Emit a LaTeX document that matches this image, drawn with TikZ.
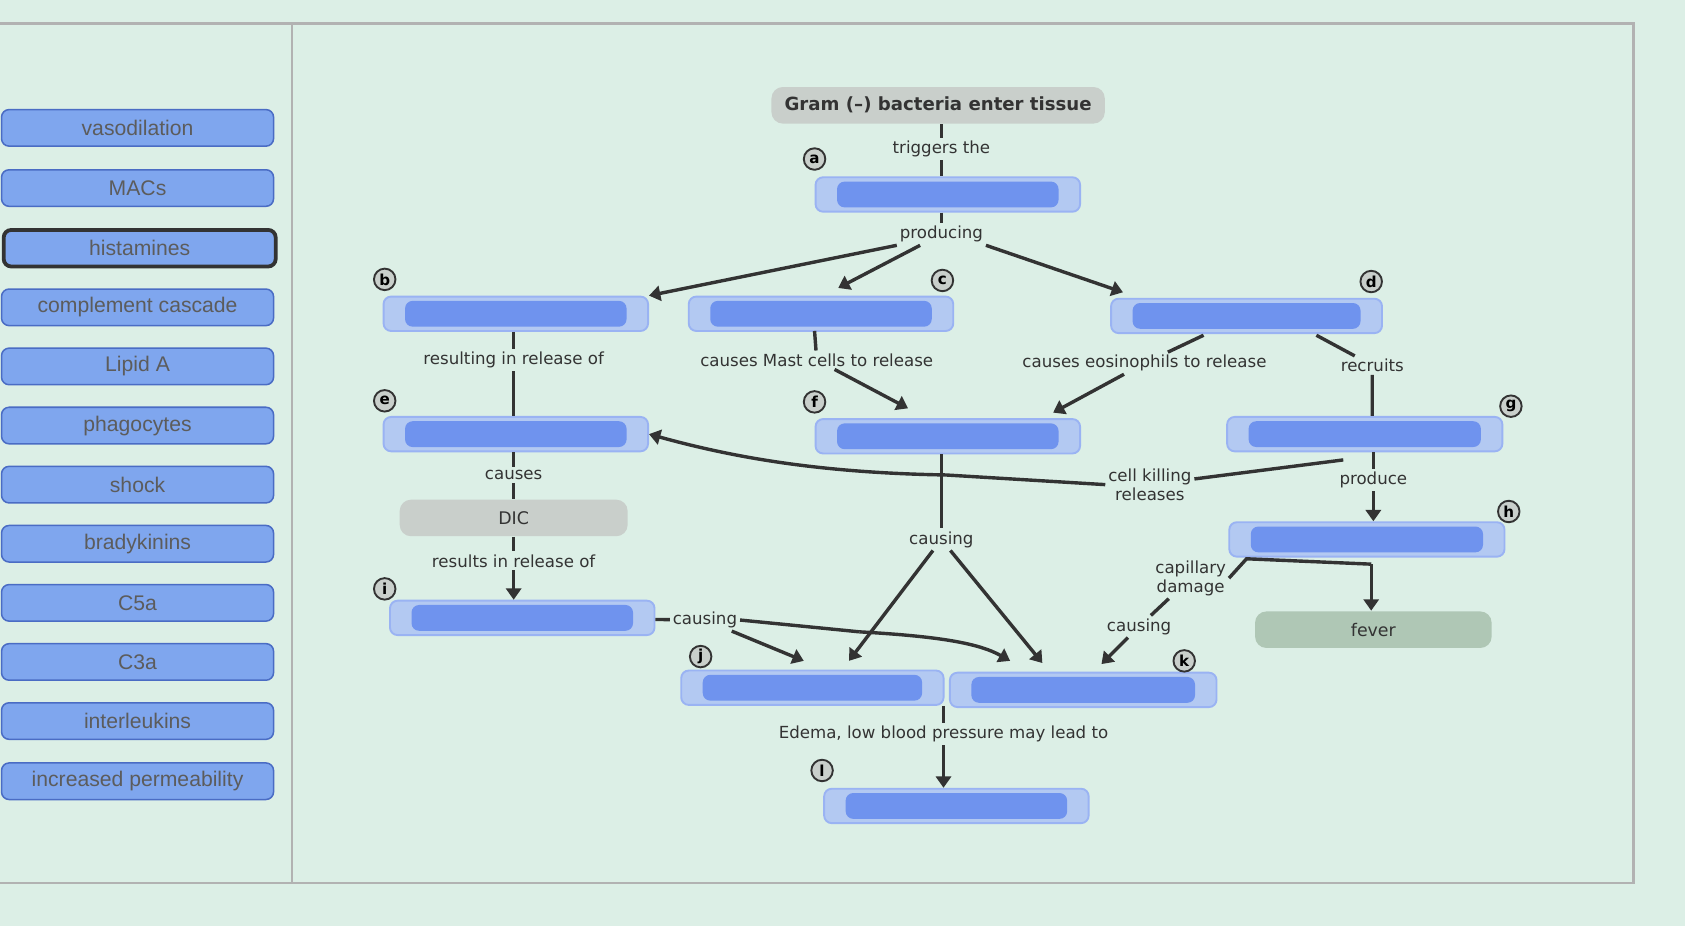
\documentclass[tikz,border=0pt]{standalone}
\usepackage{fontspec}
\setmainfont{DejaVu Sans}
\newfontfamily\btnfont{Liberation Sans}
\usetikzlibrary{arrows.meta}
\definecolor{bgmint}{HTML}{DCEFE6}
\definecolor{btnblue}{HTML}{7FA6EE}
\definecolor{btnedge}{HTML}{4A6CC4}
\definecolor{slotfill}{HTML}{B3C9F2}
\definecolor{slotin}{HTML}{6F93EE}
\definecolor{greybox}{HTML}{C9CFCB}
\definecolor{fevergrey}{HTML}{AFC7B5}
\definecolor{ink}{HTML}{333333}
\tikzset{
  btn/.style={draw=btnedge, fill=btnblue, rounded corners=2pt, minimum width=2.53cm,
    minimum height=0.34cm, inner sep=0pt, font=\btnfont\fontsize{5.6}{6}\selectfont, text=ink!80},
  slot/.style={draw=slotin!70, fill=slotfill, rounded corners=2pt, minimum width=2.46cm,
    minimum height=0.32cm, inner sep=0pt, line width=0.5pt,
    path picture={\fill[slotin] ([xshift=0.2cm,yshift=0.04cm]path picture bounding box.south west)
      rectangle ([xshift=-0.2cm,yshift=-0.04cm]path picture bounding box.north east);}},
  grey/.style={fill=greybox, rounded corners=3pt, minimum height=0.34cm, inner sep=0pt,
    font=\fontsize{4.6}{5}\selectfont, text=ink},
  lbl/.style={font=\fontsize{4.4}{5}\selectfont, text=ink, inner sep=0.6pt, fill=bgmint, align=center},
  tag/.style={circle, draw=ink, line width=0.5pt, fill=greybox, inner sep=0pt, minimum size=0.2cm,
    font=\bfseries\fontsize{4}{4}\selectfont},
  con/.style={draw=ink, line width=0.9pt},
  arr/.style={con, -{Triangle[length=3pt,width=4pt]}}
}
\begin{document}
\begin{tikzpicture}[x=0.01cm,y=-0.01cm]
\useasboundingbox (0,0) rectangle (1568,862);
\fill[bgmint] (0,0) rectangle (1568,862);
\draw[gray!60, line width=0.6pt] (0,22) -- (1520,22) -- (1520,822) -- (0,822);
\draw[gray!60, line width=0.6pt] (272,22) -- (272,822);

% word bank
\node[btn] (w1) at (128,119) {vasodilation};
\node[btn] (w2) at (128,175) {MACs};
\node[btn, line width=1pt, draw=ink] (w3) at (130,231) {histamines};
\node[btn] (w4) at (128,286) {complement cascade};
\node[btn] (w5) at (128,341) {Lipid A};
\node[btn] (w6) at (128,396) {phagocytes};
\node[btn] (w7) at (128,451) {shock};
\node[btn] (w8) at (128,506) {bradykinins};
\node[btn] (w9) at (128,561) {C5a};
\node[btn] (w10) at (128,616) {C3a};
\node[btn] (w11) at (128,671) {interleukins};
\node[btn] (w12) at (128,727) {increased permeability};

% map boxes
\node[grey, minimum width=3.1cm, font=\bfseries\fontsize{4.8}{5}\selectfont] (gram) at (873,98) {Gram (--) bacteria enter tissue};
\node[slot] (a) at (882,181) {};
\node[slot] (b) at (480,292) {};
\node[slot] (c) at (764,292) {};
\node[slot, minimum width=2.52cm] (d) at (1160,294) {};
\node[slot] (e) at (480,404) {};
\node[slot] (f) at (882,406) {};
\node[slot, minimum width=2.56cm] (g) at (1270,404) {};
\node[slot, minimum width=2.56cm] (h) at (1272,502) {};
\node[slot] (i) at (486,575) {};
\node[slot, minimum width=2.44cm] (j) at (756,640) {};
\node[slot, minimum width=2.48cm] (k) at (1008,642) {};
\node[slot] (l) at (890,750) {};
\node[grey, minimum width=2.12cm] (dic) at (478,482) {DIC};
\node[grey, minimum width=2.2cm, fill=fevergrey] (fever) at (1278,586) {fever};

% letter tags
\node[tag] (ta) at (758,148) {a};
\node[tag] (tb) at (358,260) {b};
\node[tag] (tc) at (877,261) {c};
\node[tag] (td) at (1276,262) {d};
\node[tag] (te) at (358,373) {e};
\node[tag] (tf) at (758,374) {f};
\node[tag] (tg) at (1406,378) {g};
\node[tag] (th) at (1404,476) {h};
\node[tag] (ti) at (358,548) {i};
\node[tag] (tj) at (652,611) {j};
\node[tag] (tk) at (1102,615) {k};
\node[tag] (tl) at (765,717) {l};

% link labels
\node[lbl] (trig) at (876,139) {triggers the};
\node[lbl] (prod) at (876,218) {producing};
\node[lbl] (res) at (478,335) {resulting in release of};
\node[lbl] (mast) at (760,335) {causes Mast cells to release};
\node[lbl] (eos) at (1065,338) {causes eosinophils to release};
\node[lbl] (recr) at (1277,340) {recruits};
\node[lbl] (kill) at (1070,451) {cell killing\\releases};
\node[lbl] (pro2) at (1278,447) {produce};
\node[lbl] (caus1) at (478,442) {causes};
\node[lbl] (rel) at (478,522) {results in release of};
\node[lbl] (caus2) at (876,502) {causing};
\node[lbl] (caus3) at (656,577) {causing};
\node[lbl] (cap) at (1108,538) {capillary\\damage};
\node[lbl] (caus4) at (1060,583) {causing};
\node[lbl] (edema) at (878,683) {Edema, low blood pressure may lead to};

% connectors
\coordinate (hl) at (1160,520);
\coordinate (hr) at (1276,525);
\coordinate (ci) at (800,588);
\draw[con] (trig |- gram.south) -- (trig) -- (trig |- a.north);
\draw[con] (prod |- a.south) -- (prod);
\draw[arr] (prod.south west) -- (b.north east);
\draw[arr] (prod) -- (780,268);
\draw[arr] (prod.south east) -- (1045,272);
\draw[con] (res |- b.south) -- (res) -- (res |- e.north);
\draw[con] (758,308) -- (mast);
\draw[arr] (mast) -- (845,380);
\draw[con] (1120,312) -- (eos);
\draw[arr] (eos) -- (980,384);
\draw[con] (1225,312) -- (recr) -- (recr |- g.north);
\draw[con] (1250,428) -- (kill);
\draw[arr] (kill.west) -- (880,442) .. controls (760,440) and (680,425) .. (e.east);
\draw[arr] (pro2 |- g.south) -- (pro2) -- (pro2 |- h.north);
\draw[con] (caus1 |- e.south) -- (caus1) -- (caus1 |- dic.north);
\draw[arr] (rel |- dic.south) -- (rel) -- (rel |- i.north);
\draw[con] (caus2 |- f.south) -- (caus2);
\draw[arr] (caus2) -- (790,615);
\draw[arr] (caus2) -- (970,617);
\draw[con] (i) -- (caus3);
\draw[arr] (caus3) -- (748,615);
\draw[con] (caus3.east) -- (ci);
\draw[arr] (ci) .. controls (870,592) and (910,598) .. (940,615);
\draw[con] (cap.east) -- (hl) -- (hr);
\draw[arr] (hr) -- (fever.north -| hr);
\draw[con] (cap) -- (caus4);
\draw[arr] (caus4) -- (1025,618);
\draw[con] (edema |- j.south) -- (edema);
\draw[arr] (edema) -- (edema |- l.north);
\end{tikzpicture}
\end{document}
